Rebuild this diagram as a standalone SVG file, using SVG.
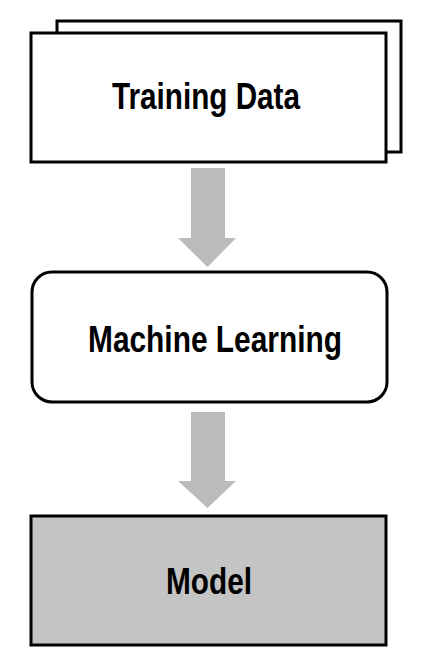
<svg xmlns="http://www.w3.org/2000/svg" width="423" height="666" viewBox="0 0 423 666">
<style>
.box{stroke:#000;stroke-width:3}
.lbl{font-family:"Liberation Sans Narrow","Liberation Sans",Arial,sans-serif;font-size:36px;font-weight:bold;fill:#000;text-anchor:middle}
.arr{fill:#bbbbbb}
</style>
<rect width="423" height="666" fill="#fff"/>
<g id="training-data">
<rect class="box" x="57" y="21" width="344" height="131" fill="#fff"/>
<rect class="box" x="31" y="33" width="355" height="129" fill="#fff"/>
<text class="lbl" x="206" y="109" textLength="188" lengthAdjust="spacingAndGlyphs">Training Data</text>
</g>
<g id="machine-learning">
<rect class="box" x="32" y="272" width="355" height="130" rx="20" ry="20" fill="#fff"/>
<text class="lbl" x="215" y="352" textLength="254" lengthAdjust="spacingAndGlyphs">Machine Learning</text>
</g>
<g id="model">
<rect class="box" x="31" y="516" width="355" height="129" fill="#c4c4c4"/>
<text class="lbl" x="209" y="594" textLength="86" lengthAdjust="spacingAndGlyphs">Model</text>
</g>
<g id="connectors">
<polygon class="arr" points="191,168 225,168 225,238 236,238 207.5,267 178,238 191,238"/>
<polygon class="arr" points="191,412 225,412 225,481 236,481 207.5,508 178,481 191,481"/>
</g>
</svg>
